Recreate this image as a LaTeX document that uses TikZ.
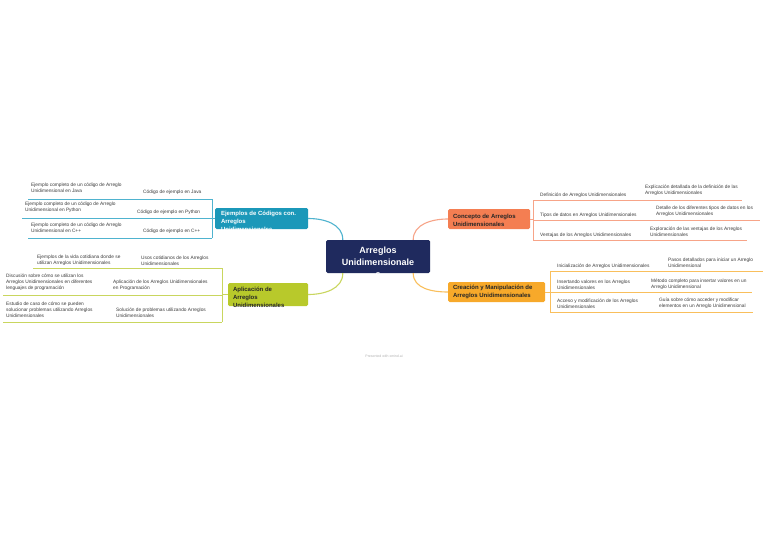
\documentclass[tikz,border=0pt]{standalone}
\usepackage{fontspec}
\setmainfont{Liberation Sans}
\definecolor{navy}{HTML}{1F2A5E}
\definecolor{tealc}{HTML}{1B98B9}
\definecolor{teall}{HTML}{4FB3CF}
\definecolor{limec}{HTML}{B8C92B}
\definecolor{limel}{HTML}{C9D65E}
\definecolor{coralc}{HTML}{F47E52}
\definecolor{corall}{HTML}{F7A488}
\definecolor{amberc}{HTML}{F7A92A}
\definecolor{amberl}{HTML}{F9BF5C}
\definecolor{rowtext}{HTML}{3C3C3C}
\begin{document}
\begin{tikzpicture}[x=1pt,y=-1pt,
  rowtxt/.style={anchor=south west, inner sep=0pt, align=left, font=\fontsize{4.8}{6.1}\selectfont, text=rowtext},
  topictxt/.style={anchor=west, inner sep=0pt, align=left, font=\fontsize{6}{8}\selectfont\bfseries},
  boxshape/.style={draw=none, inner sep=0pt, rounded corners=1.5pt},
  tline/.style={draw=teall, line width=0.8pt},
  gline/.style={draw=limel, line width=0.8pt},
  cline/.style={draw=corall, line width=0.8pt},
  aline/.style={draw=amberl, line width=0.8pt}]
\useasboundingbox (0,0) rectangle (768,543);
\fill[white] (0,0) rectangle (768,543);

% ---------- central ----------
\node[boxshape, fill=navy, minimum width=104pt, minimum height=33pt] (c) at (378,256.5) {};
\node[inner sep=0pt, align=center, text=white, font=\fontsize{9}{12}\selectfont\bfseries] (ct) at (378,262) {Arreglos\\Unidimensionale\\s};

% ---------- main topic boxes ----------
\node[boxshape, fill=tealc, minimum width=93pt, minimum height=21pt] (tb) at (261.5,218.5) {};
\node[topictxt, text=white] (tbt) at ([xshift=6pt,yshift=-2.5pt]tb.west) {Ejemplos de Códigos con.\\Arreglos\\Unidimensionales};

\node[boxshape, fill=limec, minimum width=80pt, minimum height=23pt] (gb) at (268,294.5) {};
\node[topictxt, text=black!85] (gbt) at ([xshift=5pt,yshift=-2.5pt]gb.west) {Aplicación de\\Arreglos\\Unidimensionales};

\node[boxshape, fill=coralc, minimum width=82pt, minimum height=20pt] (cb) at (489,219) {};
\node[topictxt, text=black!85] (cbt) at ([xshift=5pt,yshift=-1pt]cb.west) {Concepto de Arreglos\\Unidimensionales};

\node[boxshape, fill=amberc, minimum width=97pt, minimum height=20pt] (ab) at (496.5,292) {};
\node[topictxt, text=black!85] (abt) at ([xshift=5pt]ab.west) {Creación y Manipulación de\\Arreglos Unidimensionales};

% ---------- central connectors ----------
\draw[draw=teall, line width=1.1pt] ([xshift=17pt]c.north west) to[out=90,in=0] (tb.east);
\draw[draw=limel, line width=1.1pt] ([xshift=17pt]c.south west) to[out=-90,in=0] (gb.east);
\draw[draw=corall, line width=1.1pt] ([xshift=-17pt]c.north east) to[out=90,in=180] (cb.west);
\draw[draw=amberl, line width=1.1pt] ([xshift=-17pt]c.south east) to[out=-90,in=180] (ab.west);

% ---------- teal branch ----------
\coordinate (tk) at (212,218.5);
\coordinate (t1r) at (212,199); \coordinate (t1l) at (28,199);
\coordinate (t2r) at (212,218.5); \coordinate (t2l) at (22,218.5);
\coordinate (t3r) at (212,238); \coordinate (t3l) at (28,238);
\draw[tline] (tb.west) -- (tk);
\draw[tline] (t1r) -- (t3r);
\draw[tline] (t1r) -- (t1l);
\draw[tline] (t2r) -- (t2l);
\draw[tline] (t3r) -- (t3l);
\node[rowtxt] (t1) at (143,195) {Código de ejemplo en Java};
\node[rowtxt] (t1c) at (31,193) {Ejemplo completo de un código de Arreglo\\Unidimensional en Java};
\node[rowtxt] (t2) at (137,214.5) {Código de ejemplo en Python};
\node[rowtxt] (t2c) at (25,213) {Ejemplo completo de un código de Arreglo\\Unidimensional en Python};
\node[rowtxt] (t3) at (143,234) {Código de ejemplo en C++};
\node[rowtxt] (t3c) at (31,233) {Ejemplo completo de un código de Arreglo\\Unidimensional en C++};

% ---------- green branch ----------
\coordinate (gk) at (222,294.5);
\coordinate (g1r) at (222,268); \coordinate (g1l) at (33,268);
\coordinate (g2r) at (222,295); \coordinate (g2l) at (3,295);
\coordinate (g3r) at (222,322); \coordinate (g3l) at (3,322);
\draw[gline] (gb.west) -- (gk);
\draw[gline] (g1r) -- (g3r);
\draw[gline] (g1r) -- (g1l);
\draw[gline] (g2r) -- (g2l);
\draw[gline] (g3r) -- (g3l);
\node[rowtxt] (g1) at (141,265.5) {Usos cotidianos de los Arreglos\\Unidimensionales};
\node[rowtxt] (g1c) at (37,265.5) {Ejemplos de la vida cotidiana donde se\\utilizan Arreglos Unidimensionales};
\node[rowtxt] (g2) at (113,291) {Aplicación de los Arreglos Unidimensionales\\en Programación};
\node[rowtxt] (g2c) at (6,290.5) {Discusión sobre cómo se utilizan los\\Arreglos Unidimensionales en diferentes\\lenguajes de programación};
\node[rowtxt] (g3) at (116,318) {Solución de problemas utilizando Arreglos\\Unidimensionales};
\node[rowtxt] (g3c) at (6,317.5) {Estudio de caso de cómo se pueden\\solucionar problemas utilizando Arreglos\\Unidimensionales};

% ---------- coral branch ----------
\coordinate (ck) at (533,219);
\coordinate (c1l) at (533,200); \coordinate (c1r) at (742,200);
\coordinate (c2l) at (533,220); \coordinate (c2r) at (760,220);
\coordinate (c3l) at (533,240); \coordinate (c3r) at (747,240);
\draw[cline] (cb.east) -- (ck);
\draw[cline] (c1l) -- (c3l);
\draw[cline] (c1l) -- (c1r);
\draw[cline] (c2l) -- (c2r);
\draw[cline] (c3l) -- (c3r);
\node[rowtxt] (k1) at (540,197.5) {Definición de Arreglos Unidimensionales};
\node[rowtxt] (k1c) at (645,196) {Explicación detallada de la definición de las\\Arreglos Unidimensionales};
\node[rowtxt] (k2) at (540,217.5) {Tipos de datos en Arreglos Unidimensionales};
\node[rowtxt] (k2c) at (656,216.5) {Detalle de los diferentes tipos de datos en los\\Arreglos Unidimensionales};
\node[rowtxt] (k3) at (540,238) {Ventajas de los Arreglos Unidimensionales};
\node[rowtxt] (k3c) at (650,237) {Exploración de las ventajas de los Arreglos\\Unidimensionales};

% ---------- amber branch ----------
\coordinate (ak) at (550,292);
\coordinate (a1l) at (550,271); \coordinate (a1r) at (763,271);
\coordinate (a2l) at (550,292); \coordinate (a2r) at (752,292);
\coordinate (a3l) at (550,312); \coordinate (a3r) at (753,312);
\draw[aline] (ab.east) -- (ak);
\draw[aline] (a1l) -- (a3l);
\draw[aline] (a1l) -- (a1r);
\draw[aline] (a2l) -- (a2r);
\draw[aline] (a3l) -- (a3r);
\node[rowtxt] (m1) at (557,268.5) {Inicialización de Arreglos Unidimensionales};
\node[rowtxt] (m1c) at (668,267.5) {Pasos detallados para iniciar un Arreglo\\Unidimensional};
\node[rowtxt] (m2) at (557,289.5) {Insertando valores en los Arreglos\\Unidimensionales};
\node[rowtxt] (m2c) at (651,289.5) {Método completo para insertar valores en un\\Arreglo Unidimensional};
\node[rowtxt] (m3) at (557,309) {Acceso y modificación de los Arreglos\\Unidimensionales};
\node[rowtxt] (m3c) at (659,309) {Guía sobre cómo acceder y modificar\\elementos en un Arreglo Unidimensional};

% ---------- watermark ----------
\node[inner sep=0pt, text=black!30, font=\fontsize{3.5}{4}\selectfont] (wm) at (384,356) {Presented with xmind.ai};
\end{tikzpicture}
\end{document}
